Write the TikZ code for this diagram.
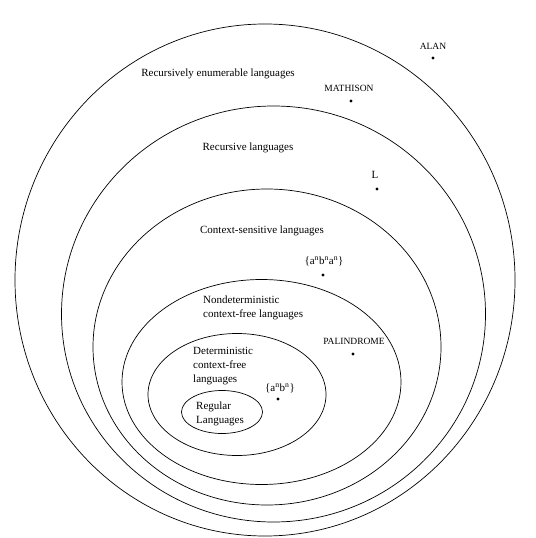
\documentclass[tikz,border=0pt]{standalone}
\usepackage{fontspec}
\setmainfont{Liberation Serif}
\tikzset{ring/.style={draw,line width=0.7bp},lang/.style={inner sep=0pt,align=left,font=\fontsize{11bp}{14bp}\selectfont},word/.style={inner sep=0pt,font=\fontsize{9.5bp}{11bp}\selectfont},dot/.style={circle,fill,inner sep=0pt,minimum size=3.2bp}}
\begin{document}
\begin{tikzpicture}[x=1bp,y=-1bp]
\useasboundingbox (0,0) rectangle (536,538);
% nested language classes
\draw[ring] (265,280) ellipse [x radius=250,y radius=256];\draw[ring] (273.5,314) ellipse [x radius=212,y radius=208];\draw[ring] (267,347) ellipse [x radius=174,y radius=158];
\draw[ring] (261.5,382) ellipse [x radius=139.5,y radius=102.5];\draw[ring] (237,394.5) ellipse [x radius=89,y radius=61];\draw[ring] (222,412) ellipse [x radius=40.5,y radius=21.5];
% class names
\node[lang] (recenum) at (218,74) {Recursively enumerable languages};\node[lang] (recursive) at (248,148) {Recursive languages};\node[lang] (contextsens) at (262,231) {Context-sensitive languages};
\node[lang,anchor=west] (nondetcf) at (203,308) {Nondeterministic\\context-free languages};\node[lang,anchor=west] (detcf) at (193,366) {Deterministic\\context-free\\languages};\node[lang,anchor=west] (regular) at (196,414) {Regular\\Languages};
% sample languages
\node[word] (alan) at (433,46) {ALAN};\node[dot] (alan-pt) at (433,58) {};
\node[word] (mathison) at (349,88) {MATHISON};\node[dot] (mathison-pt) at (351,101) {};
\node[lang] (ell) at (375,175) {L};\node[dot] (ell-pt) at (377,189) {};
\node[lang] (anbnan) at (324,261) {\{a\textsuperscript{n}b\textsuperscript{n}a\textsuperscript{n}\}};\node[dot] (anbnan-pt) at (323,275) {};
\node[word] (palindrome) at (354,341) {PALINDROME};\node[dot] (palindrome-pt) at (353,354) {};
\node[lang] (anbn) at (280,388) {\{a\textsuperscript{n}b\textsuperscript{n}\}};\node[dot] (anbn-pt) at (278,399) {};
\end{tikzpicture}
\end{document}
